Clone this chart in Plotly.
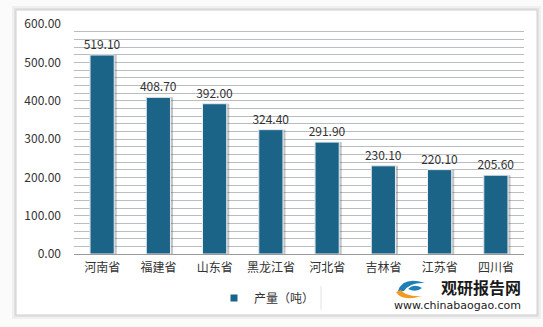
import plotly.graph_objects as go

provinces = ["河南省", "福建省", "山东省", "黑龙江省", "河北省", "吉林省", "江苏省", "四川省"]
output_tons = [519.10, 408.70, 392.00, 324.40, 291.90, 230.10, 220.10, 205.60]
series_name = "产量（吨）"

BAR = "#1b6488"
FONT = "Noto Sans CJK SC, DejaVu Sans, sans-serif"

fig = go.Figure()
# shadow
fig.add_trace(go.Bar(
    x=provinces, y=output_tons, width=0.48, offset=-0.22,
    marker=dict(color="rgba(90,90,90,0.35)", line=dict(width=0)),
    showlegend=False, hoverinfo="skip",
))
fig.add_trace(go.Bar(
    x=provinces, y=output_tons, width=0.43, offset=-0.215, name=series_name,
    marker=dict(color=BAR, line=dict(color="#e8eef4", width=1)),
    text=[f"{v:.2f}" for v in output_tons], textposition="outside",
    constraintext="none",
    textfont=dict(size=12, color="#333333", family=FONT),
    cliponaxis=False, showlegend=False,
))
# legend entry
fig.add_trace(go.Scatter(
    x=[None], y=[None], mode="markers", name=series_name,
    marker=dict(symbol="square", size=7, color=BAR), showlegend=True,
))

def px_x(p):
    return (p - 74) / 450

def px_y(p):
    return (254 - p) / 230

# card shadow + border
for off, col in [(4, "#f0f0f0"), (2, "#e2e2e2")]:
    fig.add_shape(type="rect", xref="paper", yref="paper", layer="below",
                  x0=px_x(16 - off), x1=px_x(537 + off), y0=px_y(315 + off), y1=px_y(10 - off),
                  line=dict(width=0), fillcolor=col)
fig.add_shape(type="rect", xref="paper", yref="paper", layer="below",
              x0=px_x(16), x1=px_x(537), y0=px_y(315), y1=px_y(10),
              line=dict(color="#d0d0d0", width=1), fillcolor="white")
# legend box shadow
fig.add_shape(type="rect", xref="paper", yref="paper", layer="below",
              x0=px_x(229), x1=px_x(322), y0=px_y(310), y1=px_y(286),
              line=dict(width=0), fillcolor="#f1f1f1")

# watermark text
fig.add_annotation(xref="paper", yref="paper", x=px_x(522), y=px_y(286.5), xanchor="right", yanchor="middle",
                   text="<b>观研报告网</b>", showarrow=False, borderpad=0,
                   font=dict(size=16, color="#1a1a1a", family=FONT))
fig.add_annotation(xref="paper", yref="paper", x=px_x(522), y=px_y(305), xanchor="right", yanchor="middle",
                   text="www.chinabaogao.com", showarrow=False, borderpad=0,
                   font=dict(size=11, color="#1a1a1a", family="DejaVu Sans, sans-serif"))
# simple logo swirl
fig.add_shape(type="path", xref="paper", yref="paper",
              path=f"M {px_x(398)},{px_y(291)} Q {px_x(403)},{px_y(276)} {px_x(425)},{px_y(283)} "
                   f"Q {px_x(410)},{px_y(282)} {px_x(404)},{px_y(291)} Z",
              fillcolor="#1e7fb8", line=dict(width=0))
fig.add_shape(type="path", xref="paper", yref="paper",
              path=f"M {px_x(396)},{px_y(292)} Q {px_x(402)},{px_y(302)} {px_x(422)},{px_y(296)} "
                   f"Q {px_x(406)},{px_y(297)} {px_x(401)},{px_y(290)} Z",
              fillcolor="#f29a1f", line=dict(width=0))
fig.add_shape(type="path", xref="paper", yref="paper",
              path=f"M {px_x(408)},{px_y(289)} Q {px_x(414)},{px_y(283)} {px_x(422)},{px_y(288)} "
                   f"Q {px_x(416)},{px_y(293)} {px_x(408)},{px_y(289)} Z",
              fillcolor="#1e7fb8", line=dict(width=0))

fig.update_layout(
    width=543, height=327,
    margin=dict(l=74, r=19, t=24, b=73),
    paper_bgcolor="#fbfbfb", plot_bgcolor="#edf3f9",
    barmode="overlay",
    font=dict(family=FONT, size=12, color="#333333"),
    showlegend=True,
    legend=dict(orientation="h", x=px_x(267), y=px_y(298), xanchor="center", yanchor="middle",
                bgcolor="white", font=dict(size=12, color="#333333", family=FONT),
                itemwidth=30, tracegroupgap=0),
    xaxis=dict(showgrid=False, showline=True, linecolor="#9a9a9a", linewidth=1,
               ticks="", tickfont=dict(size=12, color="#333333"), fixedrange=True,
               ticklabelstandoff=3),
    yaxis=dict(range=[0, 600], dtick=100, tickformat=".2f", showgrid=True,
               gridcolor="#b9bcc0", gridwidth=1, zeroline=False, showline=False,
               ticks="", tickfont=dict(size=12, color="#333333"), ticklabelstandoff=12,
               minor=dict(dtick=20, showgrid=True, gridcolor="#b9bcc0", gridwidth=1)),
)

fig.write_html("out.html")
